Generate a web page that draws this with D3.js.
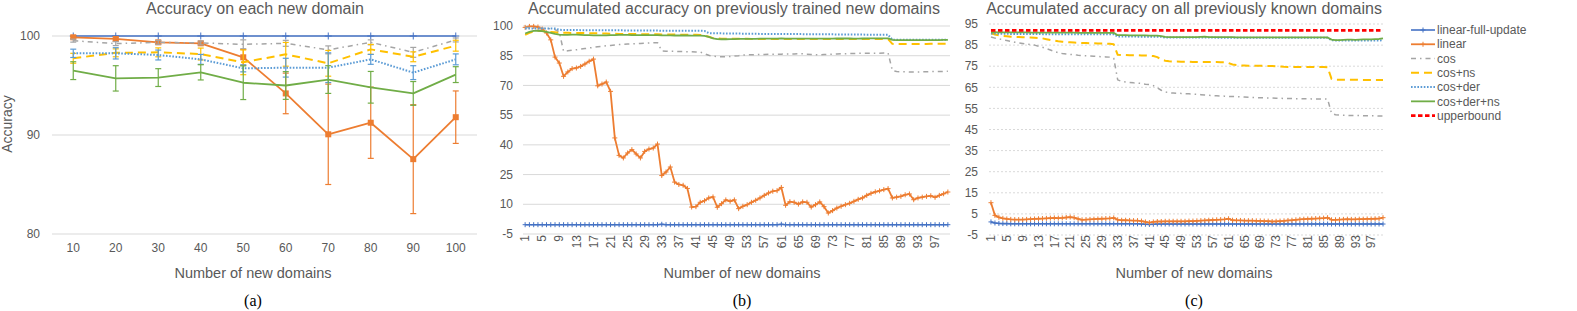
<!DOCTYPE html>
<html>
<head>
<meta charset="utf-8">
<script src="https://cdn.jsdelivr.net/npm/d3@7"></script>
<style>
  body { margin: 0; background: #fff; }
  text { font-family: "Liberation Sans", Arial, sans-serif; fill: #595959; }
</style>
</head>
<body>
<svg id="chart" width="1577" height="311"></svg>
<script>
// ---- data ----
const seriesNames = ["linear-full-update", "linear", "cos", "cos+ns", "cos+der", "cos+der+ns", "upperbound"];

// (a) accuracy on each new domain, mean and error
const domainsA = [10, 20, 30, 40, 50, 60, 70, 80, 90, 100];
const yTicksA = [80, 90, 100];
const aLinearFull = [100, 100, 100, 100, 100, 100, 100, 100, 100, 100];
const aLinear = [99.87, 99.7, 99.36, 99.26, 97.85, 94.2, 90.07, 91.24, 87.56, 91.8];
const aLinearErr = [0.1, 0.2, 0.15, 0.15, 0.8, 2.05, 5.07, 3.6, 5.5, 2.65];
const aCos = [99.53, 99.23, 99.36, 99.3, 99.16, 99.26, 98.6, 99.36, 98.35, 99.6];
const aCosErr = [0.15, 0.2, 0.2, 0.2, 0.45, 0.3, 0.4, 0.25, 0.5, 0.2];
const aCosNs = [97.75, 98.3, 98.35, 98.18, 97.34, 98.15, 97.24, 98.65, 97.9, 99.02];
const aCosNsErr = [0.5, 0.4, 0.45, 0.6, 1.25, 1.2, 1.3, 0.5, 0.5, 0.55];
const aCosDer = [98.25, 98.25, 98.08, 97.64, 96.73, 96.8, 96.8, 97.64, 96.3, 97.64];
const aCosDerErr = [0.42, 0.57, 0.5, 0.5, 0.35, 0.95, 1.5, 0.5, 0.7, 0.55];
const aCosDerNs = [96.5, 95.72, 95.8, 96.33, 95.28, 95.0, 95.6, 94.82, 94.2, 96.1];
const aCosDerNsErr = [0.9, 1.28, 0.9, 0.77, 1.7, 1.4, 1.4, 1.6, 1.2, 0.8];

// (b) and (c) share the domain index 1..100
const domainsBC = d3.range(1, 101);
const yTicksB = [-5, 10, 25, 40, 55, 70, 85, 100];
const yTicksC = [-5, 5, 15, 25, 35, 45, 55, 65, 75, 85, 95];

const bLinearFull = [
  -0.3, -0.3, -0.3, -0.3, -0.3, -0.3, -0.3, -0.3, -0.3, -0.3,
  -0.3, -0.3, -0.3, -0.3, -0.3, -0.3, -0.3, -0.3, -0.3, -0.3,
  -0.3, -0.3, -0.3, -0.3, -0.3, -0.3, -0.3, -0.3, -0.3, -0.3,
  -0.3, -0.3, -0.1, -0.3, -0.3, -0.3, -0.3, -0.3, -0.3, -0.3,
  -0.3, -0.3, -0.3, -0.3, -0.3, -0.3, -0.3, -0.3, -0.3, -0.3,
  -0.3, -0.3, -0.3, -0.3, -0.3, -0.3, -0.3, -0.3, -0.3, -0.3,
  -0.1, -0.3, -0.3, -0.3, -0.3, -0.3, -0.3, -0.3, -0.3, -0.3,
  -0.3, -0.3, -0.3, -0.3, -0.3, -0.3, -0.3, -0.3, -0.3, -0.3,
  -0.3, -0.3, -0.3, -0.3, -0.3, -0.3, -0.3, -0.3, -0.3, -0.3,
  -0.3, -0.3, -0.3, -0.3, -0.3, -0.3, -0.3, -0.3, -0.3, -0.3];
const bLinear = [
  99.3, 99.8, 99.8, 99.5, 98.5, 96.5, 93.0, 84.3, 81.3, 74.6,
  76.8, 78.5, 78.8, 79.6, 80.8, 82.2, 83.3, 69.8, 70.7, 71.7,
  67.0, 43.5, 34.7, 33.4, 35.9, 37.6, 35.4, 33.4, 36.7, 37.9,
  38.4, 40.4, 24.5, 26.3, 28.8, 21.2, 20.0, 19.6, 18.0, 8.6,
  8.8, 11.0, 11.8, 13.2, 13.7, 8.5, 10.3, 12.2, 11.5, 12.2,
  7.8, 9.0, 9.8, 11.0, 12.0, 13.2, 14.5, 15.7, 16.6, 16.9,
  18.5, 9.5, 11.3, 11.0, 10.1, 11.2, 11.0, 8.6, 9.8, 11.2,
  8.8, 5.6, 6.8, 8.1, 9.0, 9.8, 10.5, 11.5, 12.5, 13.2,
  14.5, 15.5, 16.3, 16.8, 17.4, 17.9, 13.2, 13.6, 14.0, 14.8,
  15.2, 12.3, 13.2, 13.6, 14.0, 14.3, 13.5, 14.5, 15.3, 16.2];
const bCos = [
  99.3, 99.2, 99.1, 99.0, 98.9, 98.8, 98.6, 98.2, 97.0, 87.2,
  87.5, 87.8, 88.0, 88.3, 88.6, 88.9, 89.2, 89.5, 89.7, 90.0,
  90.2, 90.4, 90.6, 90.8, 90.9, 91.0, 91.1, 91.2, 91.3, 91.4,
  91.5, 91.6, 87.4, 87.3, 87.2, 87.2, 87.1, 87.1, 87.0, 87.0,
  86.9, 86.9, 86.0, 85.2, 84.8, 84.6, 84.5, 84.5, 84.6, 84.8,
  85.0, 85.3, 85.4, 85.5, 85.5, 85.6, 85.6, 85.7, 85.7, 85.8,
  85.8, 85.9, 85.9, 85.9, 86.0, 86.0, 85.8, 85.6, 85.5, 85.5,
  85.6, 85.7, 85.8, 85.9, 86.0, 86.0, 86.1, 86.1, 86.2, 86.2,
  86.2, 86.3, 86.3, 86.3, 86.4, 86.4, 77.5, 77.0, 76.9, 76.9,
  76.8, 76.8, 76.8, 76.9, 76.9, 77.0, 77.0, 77.0, 77.1, 77.1];
const bCosNs = [
  95.5, 96.5, 97.3, 97.6, 97.5, 97.2, 97.0, 96.8, 96.6, 96.6,
  96.6, 96.5, 96.5, 96.5, 96.4, 96.4, 96.3, 96.3, 96.2, 96.2,
  96.1, 96.1, 96.0, 96.0, 96.0, 95.9, 95.9, 95.9, 95.8, 95.8,
  95.8, 95.8, 95.7, 95.7, 95.7, 95.7, 95.6, 95.6, 95.6, 95.6,
  95.6, 95.5, 95.2, 94.6, 93.9, 93.7, 93.6, 93.6, 93.6, 93.6,
  93.6, 93.6, 93.6, 93.5, 93.5, 93.5, 93.5, 93.5, 93.5, 93.5,
  93.5, 93.5, 93.5, 93.5, 93.5, 93.5, 93.4, 93.4, 93.4, 93.4,
  93.4, 93.4, 93.4, 93.4, 93.4, 93.4, 93.4, 93.4, 93.4, 93.4,
  93.4, 93.4, 93.4, 93.4, 93.4, 93.4, 91.0, 90.9, 90.9, 90.9,
  90.9, 90.9, 90.9, 90.9, 90.9, 91.0, 91.0, 91.0, 91.0, 91.0];
const bCosDer = [
  98.8, 98.8, 98.8, 98.8, 98.8, 98.8, 98.8, 98.7, 98.1, 98.0,
  98.0, 98.0, 98.0, 97.9, 97.9, 97.9, 97.9, 97.9, 97.8, 97.8,
  97.8, 97.8, 97.8, 97.8, 97.7, 97.7, 97.7, 97.7, 97.7, 97.7,
  97.7, 97.7, 97.6, 97.6, 97.6, 97.6, 97.6, 97.6, 97.6, 97.6,
  97.6, 97.6, 97.5, 96.4, 96.3, 96.3, 96.3, 96.2, 96.2, 96.2,
  96.2, 96.1, 96.1, 96.1, 96.1, 96.0, 96.0, 96.0, 96.0, 96.0,
  96.0, 95.9, 95.9, 95.9, 95.9, 95.9, 95.8, 95.8, 95.8, 95.8,
  95.8, 95.8, 95.8, 95.7, 95.7, 95.7, 95.7, 95.7, 95.7, 95.7,
  95.6, 95.6, 95.6, 95.6, 95.6, 95.6, 93.1, 93.1, 93.1, 93.1,
  93.1, 93.1, 93.0, 93.0, 93.0, 93.0, 93.0, 93.0, 93.0, 93.0];
const bCosDerNs = [
  96.2, 97.0, 97.5, 97.6, 97.4, 97.0, 96.5, 96.0, 95.6, 95.5,
  95.5, 95.6, 95.6, 95.5, 95.4, 95.4, 95.3, 95.3, 95.3, 95.3,
  95.4, 95.4, 95.5, 95.5, 95.5, 95.4, 95.4, 95.4, 95.4, 95.4,
  95.4, 95.4, 95.3, 95.3, 95.3, 95.2, 95.2, 95.2, 95.2, 95.1,
  95.1, 95.1, 95.0, 94.5, 93.8, 93.4, 93.3, 93.3, 93.4, 93.4,
  93.5, 93.5, 93.5, 93.5, 93.5, 93.6, 93.6, 93.6, 93.6, 93.6,
  93.7, 93.6, 93.6, 93.6, 93.6, 93.6, 93.6, 93.6, 93.6, 93.6,
  93.6, 93.6, 93.6, 93.7, 93.7, 93.7, 93.7, 93.6, 93.6, 93.7,
  93.8, 93.8, 93.8, 93.8, 93.8, 93.8, 93.0, 92.9, 92.9, 92.9,
  92.9, 92.9, 92.9, 92.9, 92.9, 92.9, 92.9, 92.9, 93.0, 93.0];

const cLinearFull = [
  1.2, 0.7, 0.5, 0.4, 0.4, 0.3, 0.3, 0.3, 0.3, 0.3,
  0.3, 0.3, 0.3, 0.3, 0.3, 0.3, 0.3, 0.3, 0.3, 0.3,
  0.3, 0.3, 0.3, 0.3, 0.3, 0.3, 0.3, 0.3, 0.3, 0.3,
  0.3, 0.3, 0.3, 0.3, 0.3, 0.3, 0.3, 0.3, 0.2, 0.1,
  0.0, 0.1, 0.2, 0.2, 0.2, 0.2, 0.2, 0.2, 0.2, 0.2,
  0.2, 0.2, 0.2, 0.2, 0.2, 0.2, 0.2, 0.2, 0.2, 0.2,
  0.2, 0.2, 0.2, 0.2, 0.2, 0.2, 0.2, 0.2, 0.2, 0.2,
  0.2, 0.2, 0.2, 0.2, 0.2, 0.2, 0.2, 0.2, 0.2, 0.2,
  0.2, 0.2, 0.2, 0.2, 0.2, 0.2, 0.2, 0.2, 0.2, 0.2,
  0.2, 0.2, 0.2, 0.2, 0.2, 0.2, 0.2, 0.2, 0.2, 0.2];
const cLinear = [
  10.3, 4.3, 3.4, 2.9, 2.6, 2.4, 2.3, 2.3, 2.3, 2.4,
  2.5, 2.6, 2.7, 2.8, 2.9, 3.0, 3.1, 3.0, 3.1, 3.3,
  3.5, 3.2, 2.6, 2.2, 2.3, 2.4, 2.5, 2.6, 2.7, 2.8,
  2.9, 3.1, 2.2, 2.0, 2.0, 1.9, 1.8, 1.8, 1.6, 1.2,
  0.9, 1.2, 1.4, 1.4, 1.5, 1.5, 1.5, 1.5, 1.5, 1.5,
  1.6, 1.6, 1.7, 1.8, 1.9, 2.0, 2.1, 2.2, 2.3, 2.4,
  2.7, 2.0, 1.9, 1.9, 1.8, 1.8, 1.8, 1.7, 1.7, 1.6,
  1.6, 1.4, 1.5, 1.6, 1.7, 1.9, 2.0, 2.2, 2.4, 2.5,
  2.6, 2.7, 2.8, 2.9, 3.0, 3.2, 2.2, 2.2, 2.3, 2.4,
  2.5, 2.4, 2.4, 2.5, 2.5, 2.6, 2.6, 2.7, 2.8, 3.2];
const cCos = [
  88.8, 88.3, 88.0, 87.5, 87.2, 86.8, 86.4, 86.1, 85.8, 85.5,
  85.3, 85.0, 84.5, 84.0, 83.3, 82.7, 82.0, 81.4, 81.0, 80.8,
  80.6, 80.5, 80.2, 80.0, 79.9, 79.8, 79.7, 79.6, 79.5, 79.4,
  79.3, 78.8, 68.5, 67.8, 67.5, 67.3, 67.1, 67.0, 66.8, 66.5,
  66.3, 65.8, 64.8, 63.6, 62.8, 62.4, 62.3, 62.2, 62.1, 62.0,
  61.9, 61.8, 61.7, 61.5, 61.3, 61.2, 61.1, 61.0, 60.9, 60.8,
  60.7, 60.6, 60.6, 60.5, 60.4, 60.3, 60.2, 60.1, 60.0, 60.0,
  59.9, 59.9, 59.8, 59.8, 59.7, 59.7, 59.7, 59.6, 59.6, 59.6,
  59.6, 59.5, 59.5, 59.5, 59.5, 59.4, 52.7, 52.0, 51.8, 51.7,
  51.7, 51.6, 51.6, 51.6, 51.5, 51.5, 51.5, 51.5, 51.4, 51.4];
const cCosNs = [
  90.6, 90.0, 89.6, 89.4, 89.2, 89.0, 88.9, 88.8, 88.7, 88.7,
  88.6, 88.5, 88.4, 88.2, 87.8, 87.4, 87.1, 86.8, 86.6, 86.4,
  86.3, 86.2, 86.1, 86.0, 86.0, 85.9, 85.9, 85.8, 85.8, 85.7,
  85.6, 85.4, 80.4, 80.3, 80.3, 80.2, 80.2, 80.2, 80.1, 80.1,
  80.0, 79.8, 79.3, 78.2, 77.6, 77.3, 77.2, 77.2, 77.1, 77.1,
  77.1, 77.0, 77.0, 77.0, 77.0, 77.0, 77.0, 77.0, 76.9, 76.9,
  76.5, 75.8, 75.6, 75.4, 75.3, 75.2, 75.2, 75.2, 75.2, 75.2,
  75.1, 75.1, 75.0, 74.9, 74.7, 74.6, 74.6, 74.6, 74.6, 74.6,
  74.6, 74.6, 74.6, 74.6, 74.6, 74.5, 69.0, 68.6, 68.6, 68.6,
  68.6, 68.6, 68.6, 68.5, 68.5, 68.5, 68.5, 68.5, 68.5, 68.5];
const cCosDer = [
  90.5, 90.5, 90.4, 90.4, 90.4, 90.3, 90.3, 90.3, 90.3, 90.3,
  90.3, 90.3, 90.3, 90.2, 90.2, 90.2, 90.2, 90.2, 90.2, 90.2,
  90.2, 90.2, 90.2, 90.1, 90.1, 90.1, 90.1, 90.1, 90.1, 90.1,
  90.1, 90.1, 89.1, 89.1, 89.1, 89.1, 89.1, 89.0, 89.0, 89.0,
  89.0, 89.0, 89.0, 88.9, 88.6, 88.6, 88.6, 88.6, 88.6, 88.6,
  88.6, 88.6, 88.6, 88.6, 88.6, 88.6, 88.6, 88.5, 88.5, 88.5,
  88.5, 88.5, 88.5, 88.5, 88.5, 88.5, 88.5, 88.5, 88.5, 88.5,
  88.5, 88.5, 88.5, 88.5, 88.5, 88.5, 88.5, 88.5, 88.5, 88.5,
  88.5, 88.5, 88.5, 88.5, 88.5, 88.5, 87.3, 87.2, 87.2, 87.2,
  87.2, 87.2, 87.2, 87.2, 87.2, 87.2, 87.2, 87.2, 87.2, 87.3];
const cCosDerNs = [
  91.1, 91.1, 91.0, 91.0, 91.0, 91.0, 91.0, 91.0, 91.0, 91.0,
  90.9, 90.9, 90.9, 90.9, 90.9, 90.9, 90.9, 90.9, 90.9, 90.9,
  90.9, 90.9, 90.8, 90.8, 90.8, 90.8, 90.8, 90.8, 90.8, 90.8,
  90.8, 90.8, 89.7, 89.7, 89.7, 89.6, 89.6, 89.6, 89.6, 89.6,
  89.5, 89.5, 89.5, 89.3, 88.9, 88.8, 88.8, 88.8, 88.8, 88.8,
  88.8, 88.8, 88.8, 88.9, 89.0, 88.8, 88.8, 88.8, 88.8, 88.8,
  88.8, 88.8, 88.7, 88.7, 88.7, 88.7, 88.7, 88.7, 88.7, 88.7,
  88.7, 88.7, 88.7, 88.7, 88.7, 88.7, 88.7, 88.7, 88.7, 88.7,
  88.7, 88.7, 88.7, 88.7, 88.7, 88.6, 87.6, 87.4, 87.4, 87.5,
  87.6, 87.6, 87.5, 87.6, 87.7, 87.7, 87.7, 87.8, 87.9, 88.2];
const cUpper = [
  92.0, 92.0, 92.0, 92.0, 92.0, 92.0, 92.0, 92.0, 92.0, 92.0,
  92.0, 92.0, 92.0, 92.0, 92.0, 92.0, 92.0, 92.0, 92.0, 92.0,
  92.0, 92.0, 92.0, 92.0, 92.0, 92.0, 92.0, 92.0, 92.0, 92.0,
  92.0, 92.0, 92.0, 92.0, 92.0, 92.0, 92.0, 92.0, 92.0, 92.0,
  92.0, 92.0, 92.0, 92.0, 92.0, 92.0, 92.0, 92.0, 92.0, 92.0,
  92.0, 92.0, 92.0, 92.0, 92.0, 92.0, 92.0, 92.0, 92.0, 92.0,
  92.0, 92.0, 92.0, 92.0, 92.0, 92.0, 92.0, 92.0, 92.0, 92.0,
  92.0, 92.0, 92.0, 92.0, 92.0, 92.0, 92.0, 92.0, 92.0, 92.0,
  92.0, 92.0, 92.0, 92.0, 92.0, 92.0, 92.0, 92.0, 92.0, 92.0,
  92.0, 92.0, 92.0, 92.0, 92.0, 92.0, 92.0, 92.0, 92.0, 92.0];

// ---- styles ----
const style = {
  "linear-full-update": { color: "#4472c4", width: 1.6, dash: null },
  "linear":             { color: "#ed7d31", width: 1.8, dash: null },
  "cos":                { color: "#a5a5a5", width: 1.5, dash: "5,4,1.5,4" },
  "cos+ns":             { color: "#ffc000", width: 2, dash: "8,5" },
  "cos+der":            { color: "#5b9bd5", width: 2, dash: "1.6,1.6" },
  "cos+der+ns":         { color: "#70ad47", width: 1.8, dash: null },
  "upperbound":         { color: "#ff0000", width: 2.6, dash: "4.5,2.5" }
};

const svg = d3.select("#chart");

function plusPath(s) { return `M${-s},0H${s}M0,${-s}V${s}`; }

function drawPanel(cfg) {
  const g = svg.append("g");
  const { x, y, yTicks, gridDash, yLabelX } = cfg;
  const [x0, x1] = x.range();

  // gridlines
  g.append("g").selectAll("line").data(yTicks).join("line")
    .attr("x1", x0).attr("x2", x1)
    .attr("y1", d => y(d)).attr("y2", d => y(d))
    .attr("stroke", "#d9d9d9").attr("stroke-width", 1)
    .attr("stroke-dasharray", gridDash);

  // y tick labels
  g.append("g").selectAll("text").data(yTicks).join("text")
    .attr("x", yLabelX).attr("y", d => y(d)).attr("dy", "0.35em")
    .attr("text-anchor", "end").style("font-size", "12px")
    .text(d => d);

  // x tick labels
  if (cfg.rotated) {
    g.append("g").selectAll("text").data(cfg.xLabels).join("text")
      .attr("transform", d => `translate(${x(d)},235) rotate(-90)`)
      .attr("dy", "0.35em").attr("text-anchor", "end").style("font-size", "12px")
      .text(d => d);
  } else {
    g.append("g").selectAll("text").data(cfg.xLabels).join("text")
      .attr("x", d => x(d)).attr("y", 252)
      .attr("text-anchor", "middle").style("font-size", "12px")
      .text(d => d);
  }

  // titles
  g.append("text").attr("x", cfg.titleX).attr("y", 14)
    .attr("text-anchor", "middle").style("font-size", "16px").text(cfg.title);
  g.append("text").attr("x", cfg.axisX).attr("y", 278)
    .attr("text-anchor", "middle").style("font-size", "14.5px").text("Number of new domains");
  g.append("text").attr("x", cfg.axisX).attr("y", 306)
    .attr("text-anchor", "middle")
    .style("font-family", '"Liberation Serif", "Times New Roman", serif')
    .style("font-size", "16px").style("fill", "#000").text(cfg.tag);

  return g;
}

function drawSeries(g, cats, x, y, name, values, opts = {}) {
  const st = style[name];
  const line = d3.line().x((d, i) => x(cats[i])).y(d => y(d));
  const s = g.append("g");
  if (opts.err) {
    const eb = s.append("g").attr("stroke", st.color).attr("stroke-width", 1.2);
    values.forEach((v, i) => {
      const cx = x(cats[i]), lo = y(v - opts.err[i]), hi = y(v + opts.err[i]);
      eb.append("line").attr("x1", cx).attr("x2", cx).attr("y1", lo).attr("y2", hi);
      eb.append("line").attr("x1", cx - 3).attr("x2", cx + 3).attr("y1", lo).attr("y2", lo);
      eb.append("line").attr("x1", cx - 3).attr("x2", cx + 3).attr("y1", hi).attr("y2", hi);
    });
  }
  s.append("path").datum(values)
    .attr("d", line).attr("fill", "none")
    .attr("stroke", st.color).attr("stroke-width", st.width)
    .attr("stroke-dasharray", st.dash).attr("stroke-linejoin", "round");
  if (opts.marker === "plus") {
    s.append("g").selectAll("path").data(values).join("path")
      .attr("transform", (d, i) => `translate(${x(cats[i])},${y(d)})`)
      .attr("d", plusPath(opts.size || 2.5))
      .attr("fill", "none").attr("stroke", st.color).attr("stroke-width", 1);
  } else if (opts.marker === "square") {
    const sz = opts.size || 6;
    s.append("g").selectAll("rect").data(values).join("rect")
      .attr("x", (d, i) => x(cats[i]) - sz / 2).attr("y", d => y(d) - sz / 2)
      .attr("width", sz).attr("height", sz).attr("fill", st.color);
  }
}

// ---- panel (a) ----
const xA = d3.scalePoint(domainsA, [52, 477]).padding(0.5);
const yA = d3.scaleLinear([80, 100], [234, 36]);
const gA = drawPanel({ x: xA, y: yA, yTicks: yTicksA, gridDash: null, yLabelX: 40,
  xLabels: domainsA, rotated: false, title: "Accuracy on each new domain",
  titleX: 255, axisX: 253, tag: "(a)" });
gA.append("text").attr("transform", "translate(12,124) rotate(-90)")
  .attr("text-anchor", "middle").style("font-size", "14px").text("Accuracy");
drawSeries(gA, domainsA, xA, yA, "linear-full-update", aLinearFull, { marker: "plus", size: 3.5 });
drawSeries(gA, domainsA, xA, yA, "linear", aLinear, { err: aLinearErr, marker: "square", size: 6 });
drawSeries(gA, domainsA, xA, yA, "cos", aCos, { err: aCosErr });
drawSeries(gA, domainsA, xA, yA, "cos+ns", aCosNs, { err: aCosNsErr });
drawSeries(gA, domainsA, xA, yA, "cos+der", aCosDer, { err: aCosDerErr });
drawSeries(gA, domainsA, xA, yA, "cos+der+ns", aCosDerNs, { err: aCosDerNsErr });

// ---- panel (b) ----
const xLabelsBC = domainsBC.filter(d => d % 4 === 1);
const xB = d3.scalePoint(domainsBC, [523, 950]).padding(0.5);
const yB = d3.scaleLinear([-5, 100], [234, 26]);
const gB = drawPanel({ x: xB, y: yB, yTicks: yTicksB, gridDash: null, yLabelX: 513,
  xLabels: xLabelsBC, rotated: true,
  title: "Accumulated accuracy on previously trained new domains",
  titleX: 734, axisX: 742, tag: "(b)" });
drawSeries(gB, domainsBC, xB, yB, "linear-full-update", bLinearFull, { marker: "plus" });
drawSeries(gB, domainsBC, xB, yB, "linear", bLinear, { marker: "plus" });
drawSeries(gB, domainsBC, xB, yB, "cos", bCos);
drawSeries(gB, domainsBC, xB, yB, "cos+ns", bCosNs);
drawSeries(gB, domainsBC, xB, yB, "cos+der", bCosDer);
drawSeries(gB, domainsBC, xB, yB, "cos+der+ns", bCosDerNs);

// ---- panel (c) ----
const xC = d3.scalePoint(domainsBC, [989, 1385]).padding(0.5);
const yC = d3.scaleLinear([-5, 95], [235, 24]);
const gC = drawPanel({ x: xC, y: yC, yTicks: yTicksC, gridDash: "2,2", yLabelX: 978,
  xLabels: xLabelsBC, rotated: true,
  title: "Accumulated accuracy on all previously known domains",
  titleX: 1184, axisX: 1194, tag: "(c)" });
drawSeries(gC, domainsBC, xC, yC, "linear-full-update", cLinearFull, { marker: "plus" });
drawSeries(gC, domainsBC, xC, yC, "linear", cLinear, { marker: "plus" });
drawSeries(gC, domainsBC, xC, yC, "cos", cCos);
drawSeries(gC, domainsBC, xC, yC, "cos+ns", cCosNs);
drawSeries(gC, domainsBC, xC, yC, "cos+der", cCosDer);
drawSeries(gC, domainsBC, xC, yC, "cos+der+ns", cCosDerNs);
drawSeries(gC, domainsBC, xC, yC, "upperbound", cUpper);

// ---- legend ----
const legend = svg.append("g").attr("transform", "translate(1411,30)");
const rows = legend.selectAll("g").data(seriesNames).join("g")
  .attr("transform", (d, i) => `translate(0,${i * 14.27})`);
rows.append("line").attr("x1", 0).attr("x2", 24).attr("y1", 0).attr("y2", 0)
  .attr("stroke", d => style[d].color).attr("stroke-width", d => style[d].width)
  .attr("stroke-dasharray", d => style[d].dash);
rows.filter(d => d === "linear-full-update" || d === "linear").append("path")
  .attr("transform", "translate(12,0)").attr("d", plusPath(2.5))
  .attr("fill", "none").attr("stroke", d => style[d].color).attr("stroke-width", 1);
rows.append("text").attr("x", 26).attr("dy", "0.35em")
  .style("font-size", "12px").text(d => d);
</script>
</body>
</html>
